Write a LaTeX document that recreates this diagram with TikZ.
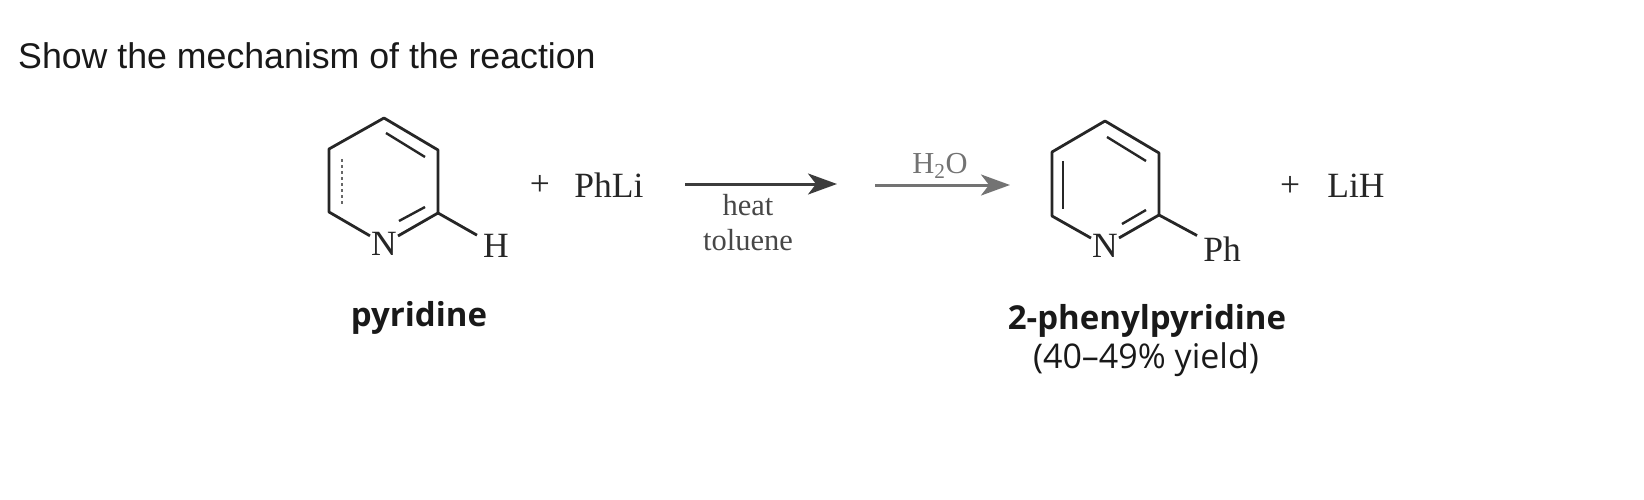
\documentclass[tikz,border=0pt]{standalone}
\usepackage{fontspec}
\usepackage{tikz}
\usepackage{xcolor}
\setmainfont{Liberation Serif}
\newfontfamily\headfont{Liberation Sans}
\newfontfamily\namefont{Open Sans}
\usetikzlibrary{arrows.meta}
\definecolor{bondgray}{gray}{0.15}
\definecolor{arrowgray}{gray}{0.45}
\tikzset{
    bond/.style={line width=2.8pt, color=bondgray, line join=round},
    innerbond/.style={line width=2.4pt, color=bondgray},
    reactarrow/.style={line width=3pt, -{Stealth[length=29pt,width=21pt,inset=8pt]}},
    chem/.style={font=\fontsize{35.5}{36}\selectfont, color=bondgray, inner sep=1pt},
    cond/.style={font=\fontsize{30.5}{31}\selectfont, color=bondgray!85, inner sep=0pt},
    compound/.style={font=\namefont\bfseries\fontsize{33}{33}\selectfont, color=black!90, inner sep=0pt},
}
\begin{document}
\begin{tikzpicture}[x=1pt, y=-1pt]
    \useasboundingbox (0,0) rectangle (1644,500);
    \node[anchor=west, inner sep=0pt, color=black!90, font=\headfont\fontsize{35.7}{36}\selectfont] (title) at (18,56)
        {Show the mechanism of the reaction};

    % pyridine
    \coordinate (at1) at (384,118);
    \coordinate (at2) at (438,150);
    \coordinate (at3) at (438,213);
    \coordinate (at5) at (329,212);
    \coordinate (at6) at (329,149);
    \node[chem] (nleft) at (384,244) {N};
    \node[chem, inner sep=6pt] (hleft) at (496,246) {H};
    \draw[bond] (nleft) -- (at5) -- (at6) -- (at1) -- (at2) -- (at3) -- (hleft);
    \draw[bond] (at3) -- (nleft);
    \coordinate (in1) at (386,133);
    \coordinate (in2) at (425,157);
    \coordinate (in3) at (399,221);
    \coordinate (in4) at (425,207);
    \coordinate (in5) at (342,159);
    \coordinate (in6) at (342,204);
    \draw[innerbond] (in1) -- (in2);
    \draw[innerbond] (in3) -- (in4);
    \draw[innerbond, color=bondgray!70, dashed] (in5) -- (in6);
    \node[compound] (lblleft) at (419,318) {pyridine};

    \node[chem] (plusleft) at (540,185) {+};
    \node[chem] (phli) at (609,185) {PhLi};

    % arrows
    \coordinate (arr1a) at (685,184);
    \coordinate (arr1b) at (837,184);
    \draw[reactarrow, color=bondgray!90] (arr1a) -- (arr1b);
    \node[cond] (heat) at (748,205) {heat};
    \node[cond] (toluene) at (748,240) {toluene};
    \coordinate (arr2a) at (875,185);
    \coordinate (arr2b) at (1010,185);
    \draw[reactarrow, color=arrowgray] (arr2a) -- (arr2b);
    \node[cond, color=arrowgray] (water) at (940,166) {H\textsubscript{2}O};

    % 2-phenylpyridine
    \coordinate (bt1) at (1105,121);
    \coordinate (bt2) at (1159,153);
    \coordinate (bt3) at (1159,215);
    \coordinate (bt5) at (1052,216);
    \coordinate (bt6) at (1052,152);
    \node[chem] (nright) at (1105,246) {N};
    \node[chem, inner sep=6pt] (phright) at (1222,249) {Ph};
    \draw[bond] (nright) -- (bt5) -- (bt6) -- (bt1) -- (bt2) -- (bt3) -- (phright);
    \draw[bond] (bt3) -- (nright);
    \coordinate (jn1) at (1107,137);
    \coordinate (jn2) at (1146,161);
    \coordinate (jn3) at (1122,224);
    \coordinate (jn4) at (1146,210);
    \coordinate (jn5) at (1063,161);
    \coordinate (jn6) at (1063,209);
    \draw[innerbond] (jn1) -- (jn2);
    \draw[innerbond] (jn3) -- (jn4);
    \draw[innerbond] (jn5) -- (jn6);
    \node[compound] (lblright) at (1147,321) {2-phenylpyridine};
    \node[compound, font=\namefont\fontsize{34}{34}\selectfont] (yield) at (1146,360) {(40–49\% yield)};

    \node[chem] (plusright) at (1290,186) {+};
    \node[chem] (lih) at (1356,186) {LiH};
\end{tikzpicture}
\end{document}
